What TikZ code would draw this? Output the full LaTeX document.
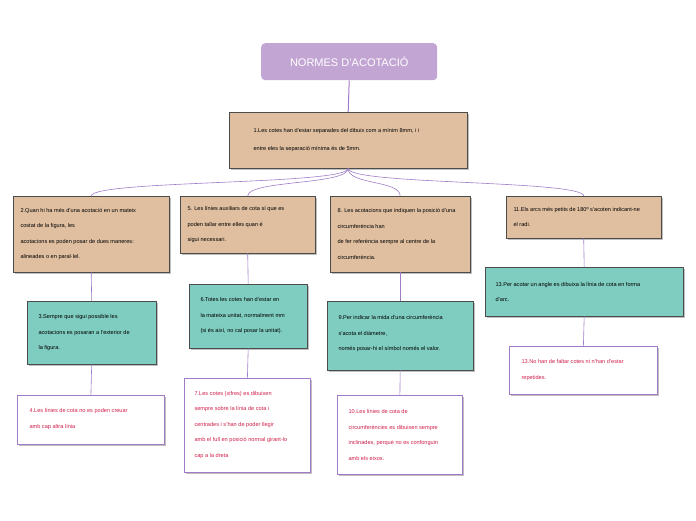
\documentclass[tikz,border=0pt]{standalone}
\usepackage{fontspec}
\setmainfont{Liberation Sans}
\usetikzlibrary{shadows}
\definecolor{tan}{HTML}{E0BFA0}
\definecolor{teal}{HTML}{7FCDC0}
\definecolor{lil}{HTML}{C3A5D3}
\definecolor{conn}{HTML}{A07CC8}
\definecolor{red}{HTML}{D0204A}
\begin{document}
\begin{tikzpicture}[x=1pt,y=-1pt,
 base/.style={anchor=north west,inner sep=0pt,draw,
   drop shadow={shadow xshift=2pt,shadow yshift=-2pt,opacity=0.5,fill=gray}},
 tanbox/.style={base,fill=tan,draw=black!70},
 tealbox/.style={base,fill=teal,draw=black!70},
 whitebox/.style={base,fill=white,draw=conn,line width=0.8pt},
 txt/.style={anchor=west,align=left,font=\fontsize{5.6}{15.5}\selectfont},
 rtxt/.style={txt,text=red},
 link/.style={draw=conn,line width=0.6pt}]
\useasboundingbox (0,0) rectangle (696,520);
\node[fill=lil,rounded corners=4pt,text=white,minimum width=176pt,minimum height=37pt,inner sep=0pt,font=\fontsize{11}{13}\selectfont,anchor=north west] (t) at (261,43) {NORMES D'ACOTACIÓ};
\node[tanbox,minimum width=238pt,minimum height=56pt] (b1) at (229,112) {};
\node[txt,font=\fontsize{5.6}{18}\selectfont] (x1) at (250,140) {1.Les cotes han d'estar separades del dibuix com a mínim 8mm, i i\\entre eles la separació mínima és de 5mm.};
\node[tanbox,minimum width=156pt,minimum height=76pt] (b2) at (13,196) {};
\node[txt] (x2) at (17,234) {2.Quan hi ha més d'una acotació en un mateix\\costat de la figura, les\\acotacions es poden posar de dues maneres:\\alineades o en  paral·lel.};
\node[tanbox,minimum width=135pt,minimum height=57pt] (b5) at (180,196) {};
\node[txt] (x5) at (184,225) {5. Les línies auxiliars de cota sí que es\\poden tallar entre elles quan é\\sigui necessari.};
\node[tanbox,minimum width=140pt,minimum height=76pt] (b8) at (330,196) {};
\node[txt] (x8) at (334,234) {8. Les acotacions que indiquen la posició d'una\\circumferència han\\de fer referència sempre al centre de la\\circumferència.};
\node[tanbox,minimum width=155pt,minimum height=42pt] (b11) at (506,196) {};
\node[txt] (x11) at (510,217) {11.Els arcs més petits de 180º s'acoten indicant-ne\\el radi.};
\node[tealbox,minimum width=129pt,minimum height=63pt] (b3) at (27,301) {};
\node[txt] (x3) at (35,333) {3.Sempre que sigui possible les\\acotacions es posaran a l'exterior de\\la figura.};
\node[tealbox,minimum width=118pt,minimum height=64pt] (b6) at (189,284) {};
\node[txt] (x6) at (197,316) {6.Totes les cotes han d'estar en\\la mateixa unitat, normalment mm\\(si és així, no cal posar la unitat).};
\node[tealbox,minimum width=146pt,minimum height=69pt] (b9) at (327,301) {};
\node[txt] (x9) at (335,334) {9.Per indicar la mida d'una circumferència\\s'acota el diàmetre,\\només posar-hi el símbol només el valor.};
\node[tealbox,minimum width=198pt,minimum height=49pt] (b13) at (485,267) {};
\node[txt] (x13) at (492,292) {13.Per acotar un angle es dibuixa la línia de cota en  forma\\d'arc.};
\node[whitebox,minimum width=147pt,minimum height=49pt] (b4) at (17,395) {};
\node[rtxt] (x4) at (26,419) {4.Les línies de cota no es poden creuar\\amb cap  altra línia};
\node[whitebox,minimum width=126pt,minimum height=94pt] (b7) at (184,378) {};
\node[rtxt] (x7) at (191,425) {7.Les cotes (xifres) es dibuixen\\sempre sobre la línia de cota i\\centrades i s'han de poder llegir\\amb el full en posició normal girant-lo\\cap  a la dreta};
\node[whitebox,minimum width=125pt,minimum height=79pt] (b10) at (337,395) {};
\node[rtxt] (x10) at (345,435) {10.Les línies de cota de\\circumferències es dibuixen sempre\\inclinades, perquè no es confonguin\\amb els eixos.};
\node[whitebox,minimum width=148pt,minimum height=48pt] (b12) at (509,346) {};
\node[rtxt] (x12) at (518,370) {13.No han de faltar cotes ni n'han d'estar\\repetides.};
\draw[link,line width=1pt] (t.south) -- (b1.north);
\draw[link] (b1.south) .. controls (348,185) and (92,180) .. (b2.north);
\draw[link] (b1.south) .. controls (348,185) and (248,180) .. (b5.north);
\draw[link] (b1.south) .. controls (348,185) and (400,180) .. (b8.north);
\draw[link] (b1.south) .. controls (348,185) and (583,180) .. (b11.north);
\draw[link] (b2.south) -- (b3.north);
\draw[link] (b5.south) -- (b6.north);
\draw[link] (b8.south) -- (b9.north);
\draw[link] (b11.south) -- (b13.north);
\draw[link] (b3.south) -- (b4.north);
\draw[link] (b6.south) -- (b7.north);
\draw[link] (b9.south) -- (b10.north);
\draw[link] (b13.south) -- (b12.north);
\end{tikzpicture}
\end{document}
